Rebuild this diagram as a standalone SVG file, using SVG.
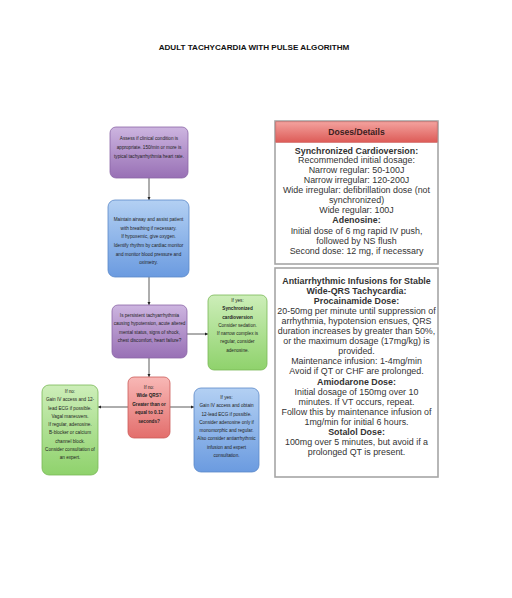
<svg xmlns="http://www.w3.org/2000/svg" width="512" height="598" viewBox="0 0 512 598">
<defs>
<linearGradient id="gPurple" x1="0" y1="0" x2="0" y2="1"><stop offset="0" stop-color="#cdb5e0"/><stop offset="1" stop-color="#9870b5"/></linearGradient>
<linearGradient id="gBlue" x1="0" y1="0" x2="0" y2="1"><stop offset="0" stop-color="#b3d0f3"/><stop offset="1" stop-color="#6b9be0"/></linearGradient>
<linearGradient id="gGreen" x1="0" y1="0" x2="0" y2="1"><stop offset="0" stop-color="#cdeeb9"/><stop offset="1" stop-color="#8fd26c"/></linearGradient>
<linearGradient id="gRed" x1="0" y1="0" x2="0" y2="1"><stop offset="0" stop-color="#f8b8b6"/><stop offset="1" stop-color="#e36e6c"/></linearGradient>
<linearGradient id="gHead" x1="0" y1="0" x2="0" y2="1"><stop offset="0" stop-color="#f3a29e"/><stop offset="1" stop-color="#dd5b57"/></linearGradient>
<marker id="arr" viewBox="0 0 6 6" refX="6" refY="3" markerWidth="4" markerHeight="4" orient="auto"><path d="M0,0 L6,3 L0,6 z" fill="#222"/></marker>
</defs>
<style>
.title{font-family:"Liberation Sans",Arial,sans-serif;font-weight:bold;font-size:8.1px;fill:#111}
.bx{stroke-width:0.8}
.t{font-family:"Liberation Sans",Arial,sans-serif;font-size:6.2px;fill:#222;text-anchor:middle}
.b{font-weight:bold}
.conn{stroke:#333;stroke-width:0.8;fill:none;marker-end:url(#arr)}
.dbox{fill:#fff;stroke:#a6a6a6;stroke-width:1.6}
.d{font-family:"Liberation Sans",Arial,sans-serif;font-size:8.9px;fill:#333;text-anchor:middle}
.dh{font-family:"Liberation Sans",Arial,sans-serif;font-size:8.6px;font-weight:bold;fill:#3a2020;text-anchor:middle}
</style>
<rect width="512" height="598" fill="#fff"/>
<text class="title" x="254" y="50" text-anchor="middle">ADULT TACHYCARDIA WITH PULSE ALGORITHM</text>

<g id="connectors">
<line class="conn" x1="149" y1="178" x2="149" y2="200"/>
<line class="conn" x1="149" y1="277" x2="149" y2="305"/>
<line class="conn" x1="187" y1="334" x2="208" y2="334"/>
<line class="conn" x1="149" y1="358" x2="149" y2="377"/>
<line class="conn" x1="128" y1="407" x2="98" y2="407"/>
<line class="conn" x1="170" y1="407" x2="194" y2="407"/>
</g>

<g id="assess">
<rect class="bx" x="110" y="127" width="78" height="51" rx="6" fill="url(#gPurple)" stroke="#8a66a6"/>
<g transform="translate(149,0) scale(0.75,1)">
<text class="t" x="0" y="140">Assess if clinical condition is</text>
<text class="t" x="0" y="149">appropriate. 150/min or more is</text>
<text class="t" x="0" y="158">typical tachyarrhythmia heart rate.</text>
</g>
</g>

<g id="maintain">
<rect class="bx" x="108" y="200" width="81" height="77" rx="7" fill="url(#gBlue)" stroke="#5a88c8"/>
<g transform="translate(148.5,0) scale(0.75,1)">
<text class="t" x="0" y="221">Maintain airway and assist patient</text>
<text class="t" x="0" y="229.7">with breathing if necessary.</text>
<text class="t" x="0" y="238.4">If hypoxemic, give oxygen.</text>
<text class="t" x="0" y="247.1">Identify rhythm by cardiac monitor</text>
<text class="t" x="0" y="255.8">and monitor blood pressure and</text>
<text class="t" x="0" y="264.5">oximetry.</text>
</g>
</g>

<g id="persistent">
<rect class="bx" x="112" y="305" width="75" height="53" rx="6" fill="url(#gPurple)" stroke="#8a66a6"/>
<g transform="translate(149.5,0) scale(0.75,1)">
<text class="t" x="0" y="317">Is persistent tachyarrhythmia</text>
<text class="t" x="0" y="325.5">causing hypotension, acute altered</text>
<text class="t" x="0" y="334">mental status, signs of shock,</text>
<text class="t" x="0" y="342.5">chest discomfort, heart failure?</text>
</g>
</g>

<g id="synch">
<rect class="bx" x="208" y="295" width="59" height="75" rx="6" fill="url(#gGreen)" stroke="#78b856"/>
<g transform="translate(237.5,0) scale(0.75,1)">
<text class="t" x="0" y="302">If yes:</text>
<text class="t b" x="0" y="310.3">Synchronized</text>
<text class="t b" x="0" y="318.6">cardioversion</text>
<text class="t" x="0" y="326.9">Consider sedation.</text>
<text class="t" x="0" y="335.2">If narrow complex is</text>
<text class="t" x="0" y="343.5">regular, consider</text>
<text class="t" x="0" y="351.8">adenosine.</text>
</g>
</g>

<g id="wideqrs">
<rect class="bx" x="128" y="377" width="42" height="61" rx="6" fill="url(#gRed)" stroke="#cc5a58"/>
<g transform="translate(149,0) scale(0.75,1)">
<text class="t" x="0" y="389">If no:</text>
<text class="t b" x="0" y="397.5">Wide QRS?</text>
<text class="t b" x="0" y="406">Greater than or</text>
<text class="t b" x="0" y="414.5">equal to 0.12</text>
<text class="t b" x="0" y="423">seconds?</text>
</g>
</g>

<g id="narrow">
<rect class="bx" x="42" y="385" width="56" height="90" rx="7" fill="url(#gGreen)" stroke="#78b856"/>
<g transform="translate(70,0) scale(0.75,1)">
<text class="t" x="0" y="393">If no:</text>
<text class="t" x="0" y="401.3">Gain IV access and 12-</text>
<text class="t" x="0" y="409.6">lead ECG if possible.</text>
<text class="t" x="0" y="417.9">Vagal maneuvers.</text>
<text class="t" x="0" y="426.2">If regular, adenosine.</text>
<text class="t" x="0" y="434.5">B-blocker or calcium</text>
<text class="t" x="0" y="442.8">channel block.</text>
<text class="t" x="0" y="451.1">Consider consultation of</text>
<text class="t" x="0" y="459.4">an expert.</text>
</g>
</g>

<g id="wide">
<rect class="bx" x="194" y="388" width="65" height="84" rx="7" fill="url(#gBlue)" stroke="#5a88c8"/>
<g transform="translate(226.5,0) scale(0.75,1)">
<text class="t" x="0" y="399">If yes:</text>
<text class="t" x="0" y="407.3">Gain IV access and obtain</text>
<text class="t" x="0" y="415.6">12-lead ECG if possible.</text>
<text class="t" x="0" y="423.9">Consider adenosine only if</text>
<text class="t" x="0" y="432.2">monomorphic and regular.</text>
<text class="t" x="0" y="440.5">Also consider antiarrhythmic</text>
<text class="t" x="0" y="448.8">infusion and expert</text>
<text class="t" x="0" y="457.1">consultation.</text>
</g>
</g>

<g id="doses">
<rect class="dbox" x="275" y="121" width="163" height="143"/>
<rect x="275.8" y="121.8" width="161.4" height="20.5" fill="url(#gHead)" stroke="#c85450" stroke-width="0.6"/>
<text class="dh" x="356.5" y="134.5">Doses/Details</text>
<text class="d b" x="356.5" y="153.5">Synchronized Cardioversion:</text>
<text class="d" x="356.5" y="163">Recommended initial dosage:</text>
<text class="d" x="356.5" y="173.3">Narrow regular: 50-100J</text>
<text class="d" x="356.5" y="183.3">Narrow irregular: 120-200J</text>
<text class="d" x="356.5" y="193.3">Wide irregular: defibrillation dose (not</text>
<text class="d" x="356.5" y="203">synchronized)</text>
<text class="d" x="356.5" y="213.3">Wide regular: 100J</text>
<text class="d b" x="356.5" y="223.3">Adenosine:</text>
<text class="d" x="356.5" y="233.5">Initial dose of 6 mg rapid IV push,</text>
<text class="d" x="356.5" y="243.5">followed by NS flush</text>
<text class="d" x="356.5" y="253.5">Second dose: 12 mg, if necessary</text>
</g>

<g id="infusions">
<rect class="dbox" x="275" y="268" width="163" height="209"/>
<text class="d b" x="356.5" y="284">Antiarrhythmic Infusions for Stable</text>
<text class="d b" x="356.5" y="294">Wide-QRS Tachycardia:</text>
<text class="d b" x="356.5" y="304">Procainamide Dose:</text>
<text class="d" x="356.5" y="314.2">20-50mg per minute until suppression of</text>
<text class="d" x="356.5" y="324.2">arrhythmia, hypotension ensues, QRS</text>
<text class="d" x="356.5" y="334.2">duration increases by greater than 50%,</text>
<text class="d" x="356.5" y="344.2">or the maximum dosage (17mg/kg) is</text>
<text class="d" x="356.5" y="354.2">provided.</text>
<text class="d" x="356.5" y="364.4">Maintenance infusion: 1-4mg/min</text>
<text class="d" x="356.5" y="374.4">Avoid if QT or CHF are prolonged.</text>
<text class="d b" x="356.5" y="384.6">Amiodarone Dose:</text>
<text class="d" x="356.5" y="394.6">Initial dosage of 150mg over 10</text>
<text class="d" x="356.5" y="404.6">minutes. If VT occurs, repeat.</text>
<text class="d" x="356.5" y="414.6">Follow this by maintenance infusion of</text>
<text class="d" x="356.5" y="424.6">1mg/min for initial 6 hours.</text>
<text class="d b" x="356.5" y="434.6">Sotalol Dose:</text>
<text class="d" x="356.5" y="444.6">100mg over 5 minutes, but avoid if a</text>
<text class="d" x="356.5" y="454.6">prolonged QT is present.</text>
</g>
</svg>
